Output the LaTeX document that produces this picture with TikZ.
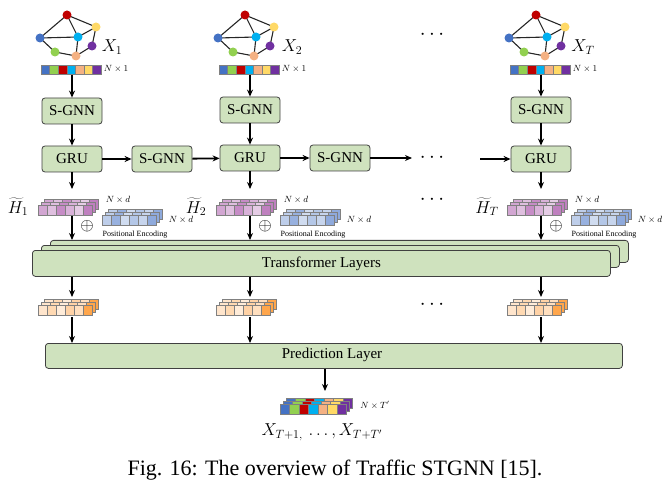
\documentclass[tikz,border=0pt]{standalone}
\usepackage{fontspec}
\setmainfont{Liberation Serif}
\usetikzlibrary{arrows.meta}
\definecolor{gbox}{RGB}{207,226,190}
\definecolor{cB}{RGB}{68,114,196}
\definecolor{cG}{RGB}{146,208,80}
\definecolor{cR}{RGB}{192,0,0}
\definecolor{cC}{RGB}{0,176,240}
\definecolor{cP}{RGB}{244,177,131}
\definecolor{cY}{RGB}{255,217,102}
\definecolor{cV}{RGB}{112,48,160}
\tikzset{
 box/.style={draw=black!75,fill=gbox,rounded corners=3pt,line width=0.8pt,minimum width=60pt,minimum height=26pt,font=\fontsize{15}{15}\selectfont},
 arr/.style={-{Stealth[length=7pt,width=6pt]},line width=1.8pt},
 lbl/.style={font=\fontsize{9}{9}\selectfont\itshape},
 gn/.style={circle,inner sep=0pt,minimum size=9pt},
 ge/.style={line width=1.1pt,black!85},
 dots/.style={font=\fontsize{20}{20}\selectfont\bfseries},
 xl/.style={font=\fontsize{17}{17}\selectfont}
}
\newcommand\cells[4]{\edef\celllist{#4}\foreach \c [count=\i from 0] in \celllist{\filldraw[fill=\c,draw=black!50,line width=0.3pt] (#1+\i*#3,#2) rectangle ++(#3,10);}}
\newcommand\stk[4]{\foreach \k in {2,1,0}{\cells{#1+\k*3}{#2-\k*3}{#4}{#3}}}
\newcommand\graphat[2]{%
 \begin{scope}[shift={(#1,0)}]
 \draw[ge] (-5,15)--(24,27) (-5,15)--(-32,38) (-5,15)--(6,37) (-32,38)--(6,37) (6,37)--(24,27) (24,27)--(20,46) (-32,38)--(-17,52) (-17,52)--(4,56) (4,56)--(6,37) (4,56)--(20,46);
 \node[gn,fill=cR] (#2r) at (-5,15){};
 \node[gn,fill=cY] (#2y) at (24,27){};
 \node[gn,fill=cB] (#2b) at (-32,38){};
 \node[gn,fill=cC] (#2c) at (6,37){};
 \node[gn,fill=cV] (#2v) at (20,46){};
 \node[gn,fill=cG] (#2g) at (-17,52){};
 \node[gn,fill=cP] (#2p) at (4,56){};
 \end{scope}}
\begin{document}
\begin{tikzpicture}[x=1pt,y=-1pt]
\useasboundingbox (0,0) rectangle (670,500);
\def\pur{violet!35,violet!25,violet!45,violet!30,violet!20,violet!50}
\def\blu{cB!35,cB!55,cB!25,cB!40,cB!30,cB!60}
\def\ora{orange!20,orange!30,orange!15,orange!35,orange!25,orange!70}
\def\barcols{cB,cG,cR,cC,cP,cY,cV}
% graphs
\graphat{72}{a}\graphat{250}{b}\graphat{541}{c}
\node[xl] (xa) at (112,47){$X_1$};
\node[xl] (xb) at (292,47){$X_2$};
\node[xl] (xc) at (583,47){$X_T$};
\node[dots] (d1) at (432,35){$\cdots$};
% bars
\foreach \cx/\n in {72/a,250/b,541/c}{
 \begin{scope}[shift={(\cx,0)}]
 \foreach \c [count=\i from 0] in \barcols {\filldraw[fill=\c,draw=black!50,line width=0.3pt] (-31+\i*8.6,65) rectangle ++(8.6,9);}
 \node[lbl] at (44,69){$N\times1$};
 \coordinate (bar\n) at (0,75);
 \end{scope}}
% boxes
\node[box] (sa) at (72,111){S-GNN};
\node[box] (sb) at (250,110){S-GNN};
\node[box] (sc) at (541,110){S-GNN};
\node[box] (ga) at (72,159){GRU};
\node[box] (gb) at (250,158){GRU};
\node[box] (gc) at (541,159){GRU};
\node[box] (m1) at (162,159){S-GNN};
\node[box] (m2) at (340,158){S-GNN};
\node[dots] (d2) at (432,158){$\cdots$};
\coordinate (m2e) at (412,158);
\coordinate (gcs) at (480,159);
\foreach \n in {a,b,c}{\draw[arr] (bar\n)--(s\n); \draw[arr] (s\n)--(g\n);}
\draw[arr] (ga)--(m1); \draw[arr] (m1)--(gb); \draw[arr] (gb)--(m2); \draw[arr] (m2)--(m2e); \draw[arr] (gcs)--(gc);
% H stacks
\foreach \cx/\n/\sub in {72/a/1,250/b/2,541/c/T}{
 \begin{scope}[shift={(\cx,0)}]
 \stk{-34}{205}{\pur}{9}
 \node[lbl] at (46,200){$N\times d$};
 \node[xl] at (-54,207){$\widetilde{H}_{\sub}$};
 \stk{30}{215}{\blu}{9}
 \node[lbl] at (109,220){$N\times d$};
 \node[font=\fontsize{8}{8}\selectfont] at (63,235){Positional Encoding};
 \node[font=\fontsize{17}{17}\selectfont] at (15,226){$\oplus$};
 \coordinate (h\n) at (0,216);
 \coordinate (t\n) at (0,240);
 \coordinate (k\n) at (0,189);
 \end{scope}
 \draw[arr] (g\n)--(k\n);
 \draw[arr] (h\n)--(t\n);}
\node[dots] (d3) at (432,200){$\cdots$};
% transformer
\node[box,minimum width=578pt,minimum height=22pt,anchor=north west] (tr3) at (50,240){};
\node[box,minimum width=578pt,minimum height=22pt,anchor=north west] (tr2) at (41,245){};
\node[box,minimum width=578pt,minimum height=26pt,anchor=north west] (tr) at (32,250){Transformer Layers};
% orange stacks
\foreach \cx/\n in {72/a,250/b,541/c}{
 \begin{scope}[shift={(\cx,0)}]
 \stk{-34}{305}{\ora}{9}
 \coordinate (u\n) at (0,277);
 \coordinate (o\n) at (0,297);
 \coordinate (q\n) at (0,317);
 \coordinate (p\n) at (0,343);
 \end{scope}
 \draw[arr] (u\n)--(o\n);
 \draw[arr] (q\n)--(p\n);}
\node[dots] (d4) at (432,305){$\cdots$};
% prediction
\node[box,minimum width=577pt,minimum height=25pt,anchor=north west] (pl) at (45,343){};
\node[font=\fontsize{15}{15}\selectfont] (plt) at (332,355){Prediction Layer};
\coordinate (out) at (325,391);
\draw[arr] (pl.south -| out)--(out);
\stk{280}{404}{cB,cG,cR,cC,cP,cY,cV}{9.5}
\node[lbl] (nt) at (375,405){$N\times T'$};
\node[font=\fontsize{17}{17}\selectfont] (xo) at (322,432){$X_{T+1,}\,\dots,X_{T+T'}$};
\node[font=\fontsize{22}{22}\selectfont] (cap) at (335,470){Fig. 16: The overview of Traffic STGNN [15].};
\end{tikzpicture}
\end{document}
